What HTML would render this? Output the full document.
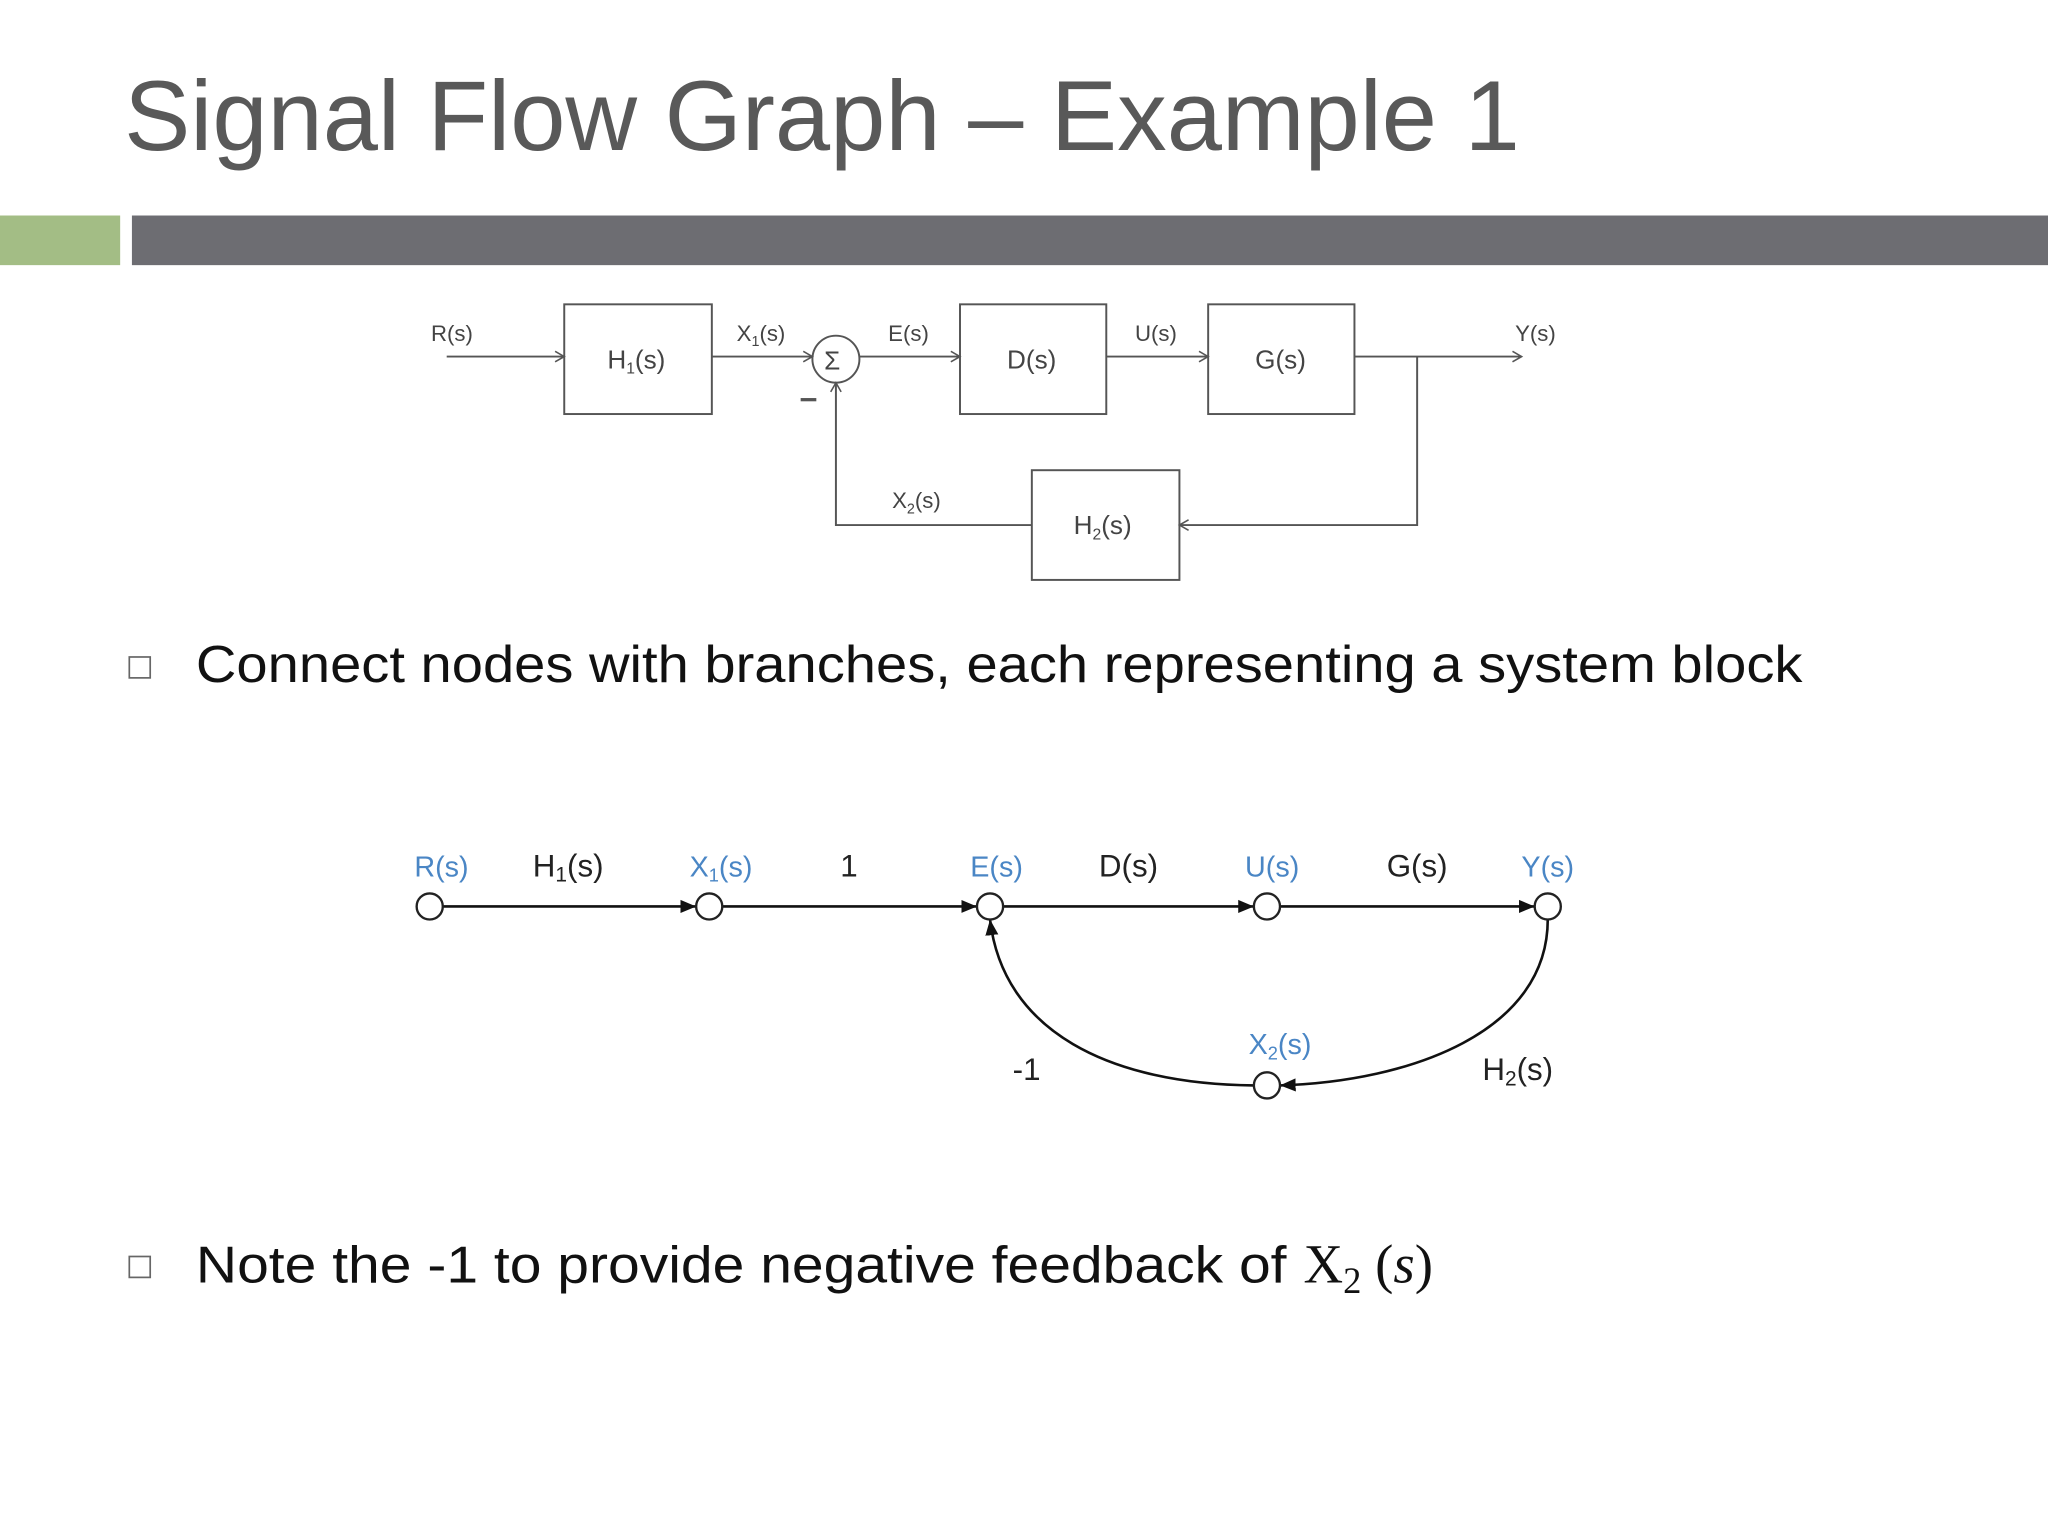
<!DOCTYPE html>
<html><head><meta charset="utf-8"><style>
html,body{margin:0;padding:0;background:#fff;}
svg{display:block;}
</style></head><body>
<svg width="2048" height="1536" viewBox="0 0 1568 1176" xmlns="http://www.w3.org/2000/svg">
<defs>
<marker id="oa" markerWidth="10" markerHeight="10" refX="8" refY="5" orient="auto" markerUnits="userSpaceOnUse">
<path d="M1,1 L8,5 L1,9" fill="none" stroke="#555" stroke-width="1.2"/></marker>
<marker id="fa" markerWidth="14" markerHeight="12" refX="12" refY="6" orient="auto" markerUnits="userSpaceOnUse">
<path d="M0,1 L12,6 L0,11 Z" fill="#111"/></marker>
</defs>
<text x="95" y="115" font-family="Liberation Sans, sans-serif" font-size="76" fill="#595959">Signal Flow Graph – Example 1</text>
<rect x="0" y="165" width="92" height="38" fill="#a3bd85"/>
<rect x="101" y="165" width="1467" height="38" fill="#6d6d72"/>

<g font-family="Liberation Sans, sans-serif" font-size="17" fill="#444" stroke="#555" stroke-width="1.5">
<g fill="none">
<line x1="342" y1="273" x2="432" y2="273" marker-end="url(#oa)"/>
<rect x="432" y="233" width="113" height="84"/>
<line x1="545" y1="273" x2="622" y2="273" marker-end="url(#oa)"/>
<circle cx="640" cy="275" r="18"/>
<line x1="658" y1="273" x2="735" y2="273" marker-end="url(#oa)"/>
<rect x="735" y="233" width="112" height="84"/>
<line x1="847" y1="273" x2="925" y2="273" marker-end="url(#oa)"/>
<rect x="925" y="233" width="112" height="84"/>
<line x1="1037" y1="273" x2="1165" y2="273" marker-end="url(#oa)"/>
<polyline points="1085,273 1085,402 903,402" marker-end="url(#oa)"/>
<rect x="790" y="360" width="113" height="84"/>
<polyline points="790,402 640,402 640,293" marker-end="url(#oa)"/>
<line x1="613" y1="306" x2="625" y2="306" stroke-width="2.5"/>
</g>
<g stroke="none">
<text x="330" y="261">R(s)</text>
<text x="465" y="282" font-size="20">H<tspan font-size="12" dy="4">1</tspan><tspan dy="-4">(s)</tspan></text>
<text x="564" y="261">X<tspan font-size="11" dy="4">1</tspan><tspan dy="-4">(s)</tspan></text>
<text x="631" y="283" font-size="20">Σ</text>
<text x="680" y="261">E(s)</text>
<text x="771" y="282" font-size="20">D(s)</text>
<text x="869" y="261">U(s)</text>
<text x="961" y="282" font-size="20">G(s)</text>
<text x="1160" y="261">Y(s)</text>
<text x="683" y="389">X<tspan font-size="11" dy="4">2</tspan><tspan dy="-4">(s)</tspan></text>
<text x="822" y="409" font-size="20">H<tspan font-size="12" dy="4">2</tspan><tspan dy="-4">(s)</tspan></text>
</g>
</g>

<rect x="99" y="503" width="16" height="16" fill="none" stroke="#666" stroke-width="1.3"/>
<text x="150" y="522" font-family="Liberation Sans, sans-serif" font-size="40" fill="#111" textLength="1230" lengthAdjust="spacingAndGlyphs">Connect nodes with branches, each representing a system block</text>

<g stroke="#111" stroke-width="2" fill="none">
<line x1="339" y1="694" x2="533" y2="694" marker-end="url(#fa)"/>
<line x1="553" y1="694" x2="748" y2="694" marker-end="url(#fa)"/>
<line x1="768" y1="694" x2="960" y2="694" marker-end="url(#fa)"/>
<line x1="980" y1="694" x2="1175" y2="694" marker-end="url(#fa)"/>
<path d="M1185,704 C1185,790 1080,828 980,831" marker-end="url(#fa)"/>
<path d="M960,831 C850,830 768,790 758,704" marker-end="url(#fa)"/>
</g>
<g stroke="#222" stroke-width="1.8" fill="#fff">
<circle cx="329" cy="694" r="10"/><circle cx="543" cy="694" r="10"/><circle cx="758" cy="694" r="10"/>
<circle cx="970" cy="694" r="10"/><circle cx="1185" cy="694" r="10"/><circle cx="970" cy="831" r="10"/>
</g>
<g font-family="Liberation Sans, sans-serif" font-size="22" fill="#4a86c5" text-anchor="middle">
<text x="338" y="671">R(s)</text>
<text x="552" y="671">X<tspan font-size="14" dy="4">1</tspan><tspan dy="-4">(s)</tspan></text>
<text x="763" y="671">E(s)</text>
<text x="974" y="671">U(s)</text>
<text x="1185" y="671">Y(s)</text>
<text x="980" y="807">X<tspan font-size="14" dy="4">2</tspan><tspan dy="-4">(s)</tspan></text>
</g>
<g font-family="Liberation Sans, sans-serif" font-size="24" fill="#222" text-anchor="middle">
<text x="435" y="671">H<tspan font-size="16" dy="4">1</tspan><tspan dy="-4">(s)</tspan></text>
<text x="650" y="671">1</text>
<text x="864" y="671">D(s)</text>
<text x="1085" y="671">G(s)</text>
<text x="786" y="827">-1</text>
<text x="1162" y="827">H<tspan font-size="16" dy="4">2</tspan><tspan dy="-4">(s)</tspan></text>
</g>

<rect x="99" y="962" width="16" height="16" fill="none" stroke="#666" stroke-width="1.3"/>
<text x="150" y="982" font-family="Liberation Sans, sans-serif" font-size="40" fill="#111" textLength="835" lengthAdjust="spacingAndGlyphs">Note the -1 to provide negative feedback of</text>
<text x="998" y="982" font-family="Liberation Serif, serif" font-size="42" fill="#111">X<tspan font-size="28" dy="8">2</tspan><tspan dy="-8"> (</tspan><tspan font-style="italic">s</tspan>)</text>
</svg>
</body></html>
